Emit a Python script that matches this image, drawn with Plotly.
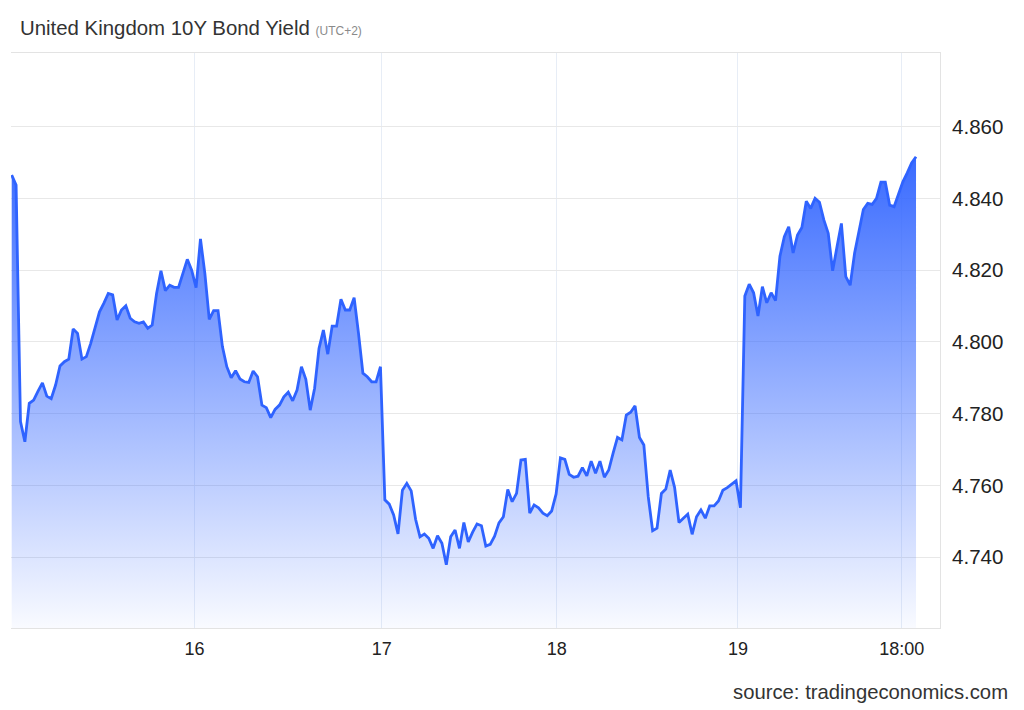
import plotly.graph_objects as go

yields = [
    4.8465, 4.8437, 4.7778, 4.7722, 4.7829, 4.7838, 4.7863, 4.7886, 4.7849, 4.7842,
    4.7880, 4.7933, 4.7945, 4.7952, 4.8036, 4.8024, 4.7952, 4.7959, 4.7996, 4.8040,
    4.8084, 4.8108, 4.8135, 4.8131, 4.8061, 4.8089, 4.8101, 4.8066, 4.8056, 4.8052,
    4.8056, 4.8038, 4.8047, 4.8135, 4.8198, 4.8143, 4.8158, 4.8152, 4.8152, 4.8191,
    4.8230, 4.8200, 4.8151, 4.8287, 4.8191, 4.8063, 4.8087, 4.8087, 4.7987, 4.7931,
    4.7900, 4.7920, 4.7897, 4.7889, 4.7887, 4.7919, 4.7903, 4.7824, 4.7817, 4.7789,
    4.7812, 4.7824, 4.7847, 4.7860, 4.7836, 4.7866, 4.7931, 4.7896, 4.7810, 4.7871,
    4.7982, 4.8033, 4.7966, 4.8044, 4.8044, 4.8119, 4.8089, 4.8089, 4.8123, 4.8024,
    4.7913, 4.7903, 4.7889, 4.7889, 4.7931, 4.7560, 4.7548, 4.7518, 4.7465, 4.7587,
    4.7606, 4.7585, 4.7506, 4.7457, 4.7465, 4.7453, 4.7425, 4.7460, 4.7439, 4.7379,
    4.7457, 4.7476, 4.7425, 4.7497, 4.7443, 4.7470, 4.7493, 4.7488, 4.7431, 4.7436,
    4.7459, 4.7496, 4.7513, 4.7589, 4.7555, 4.7578, 4.7671, 4.7673, 4.7523, 4.7546,
    4.7538, 4.7523, 4.7516, 4.7529, 4.7576, 4.7677, 4.7673, 4.7631, 4.7623, 4.7626,
    4.7650, 4.7627, 4.7668, 4.7634, 4.7668, 4.7623, 4.7643, 4.7690, 4.7734, 4.7727,
    4.7796, 4.7804, 4.7822, 4.7734, 4.7713, 4.7569, 4.7474, 4.7481, 4.7578, 4.7590,
    4.7643, 4.7595, 4.7497, 4.7509, 4.7520, 4.7464, 4.7513, 4.7532, 4.7509, 4.7543,
    4.7543, 4.7557, 4.7587, 4.7594, 4.7603, 4.7613, 4.7538, 4.8128, 4.8161, 4.8137,
    4.8072, 4.8154, 4.8109, 4.8137, 4.8115, 4.8239, 4.8293, 4.8321, 4.8248, 4.8298,
    4.8319, 4.8392, 4.8372, 4.8400, 4.8389, 4.8340, 4.8303, 4.8198, 4.8265, 4.8330,
    4.8182, 4.8158, 4.8247, 4.8312, 4.8369, 4.8386, 4.8383, 4.8400, 4.8445, 4.8445,
    4.8381, 4.8377, 4.8414, 4.8446, 4.8471, 4.8499, 4.8516,
]
steps = list(range(len(yields)))

# x-axis tick positions (in observation steps) and labels
x_tick_pos = [41.64, 84.28, 124.15, 165.44, 202.73]
x_tick_text = ["16", "17", "18", "19", "18:00"]

# y-axis ticks
y_ticks = [4.74, 4.76, 4.78, 4.80, 4.82, 4.84, 4.86]

FONT = "Liberation Sans, Arial, sans-serif"

fig = go.Figure()
fig.add_trace(go.Scatter(
    x=steps,
    y=yields,
    mode="lines",
    line=dict(color="#2f63ff", width=2.8),
    fill="tozeroy",
    fillgradient=dict(
        type="vertical",
        start=4.7203,
        stop=max(yields),
        colorscale=[[0, "rgba(51,102,255,0.03)"], [1, "rgba(51,102,255,0.97)"]],
    ),
    hoverinfo="skip",
    showlegend=False,
))

fig.update_layout(
    width=1024,
    height=710,
    margin=dict(l=11, r=84, t=53, b=82),
    paper_bgcolor="white",
    plot_bgcolor="white",
    font=dict(family=FONT, color="#222"),
    title=dict(
        text="United Kingdom 10Y Bond Yield <span style='font-size:12px;color:#8a8a8a'>(UTC+2)</span>",
        font=dict(family=FONT, size=20.4, color="#333"),
        xref="container", x=20 / 1024, xanchor="left",
        yref="container", y=1 - 28 / 710, yanchor="middle",
    ),
    xaxis=dict(
        range=[-0.16, 211.46],
        tickmode="array",
        tickvals=x_tick_pos,
        ticktext=x_tick_text,
        showgrid=True,
        gridcolor="#e7edf6",
        gridwidth=1,
        zeroline=False,
        showline=True,
        mirror=True,
        linecolor="#e3e3e3",
        linewidth=1,
        ticks="",
        ticklabelstandoff=4,
        tickfont=dict(family=FONT, size=18, color="#222"),
        fixedrange=True,
    ),
    yaxis=dict(
        side="right",
        range=[4.7203, 4.8805],
        tickmode="array",
        tickvals=y_ticks,
        tickformat=".3f",
        showgrid=True,
        gridcolor="#e8e8e8",
        gridwidth=1,
        zeroline=False,
        showline=True,
        linecolor="#e3e3e3",
        linewidth=1,
        ticks="",
        ticklabelstandoff=7,
        tickfont=dict(family=FONT, size=20.5, color="#222"),
        fixedrange=True,
    ),
    annotations=[
        dict(
            text="source: tradingeconomics.com",
            xref="paper", yref="paper",
            x=(1010 - 11) / 929, y=(628 - 692) / 575,
            xanchor="right", yanchor="middle",
            showarrow=False,
            font=dict(family=FONT, size=20.3, color="#333"),
        )
    ],
)

fig.write_html("out.html", config={"displayModeBar": False, "staticPlot": True})
